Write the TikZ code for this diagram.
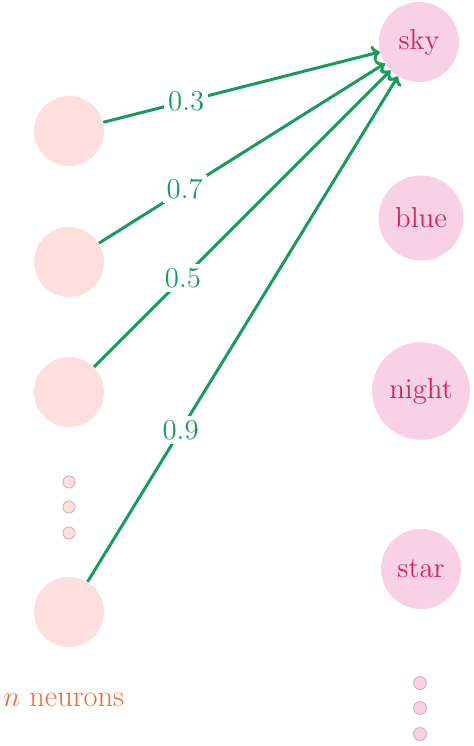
\documentclass[tikz,border=0pt]{standalone}
\usetikzlibrary{arrows.meta}
\definecolor{leftfill}{RGB}{255,222,222}
\definecolor{rightfill}{RGB}{249,209,228}
\definecolor{wordcol}{RGB}{208,36,94}
\definecolor{wgreen}{RGB}{26,155,90}
\definecolor{ncol}{RGB}{242,104,58}
\definecolor{dotborder}{RGB}{200,190,190}
\begin{document}
\begin{tikzpicture}[x=0.5pt,y=-0.5pt,
  lneuron/.style={circle,fill=leftfill,minimum size=35pt,inner sep=0pt},
  rneuron/.style={circle,fill=rightfill,minimum size=40pt,inner sep=5.5pt,text=wordcol,font=\Large},
  ldot/.style={circle,fill=leftfill,draw=dotborder,line width=0.5pt,minimum size=6pt,inner sep=0pt},
  rdot/.style={circle,fill=rightfill,draw=dotborder,line width=0.5pt,minimum size=6.5pt,inner sep=0pt},
  conn/.style={draw=wgreen,line width=1.5pt,-{To[length=4pt,width=8pt]}},
  wlabel/.style={fill=white,text=wgreen,font=\Large,inner sep=2pt}]
\useasboundingbox (0,0) rectangle (474,746);
\node[lneuron] (l1) at (69,131) {};
\node[lneuron] (l2) at (69,262) {};
\node[lneuron] (l3) at (69,392) {};
\node[lneuron] (l4) at (69,612) {};
\node[ldot] (d1) at (69,482) {};
\node[ldot] (d2) at (69,507) {};
\node[ldot] (d3) at (69,533) {};
\node[rneuron] (sky) at (419,42) {sky};
\node[rneuron] (blue) at (421,218) {blue};
\node[rneuron] (night) at (421,391) {night};
\node[rneuron] (star) at (421,569) {star};
\node[rdot] (e1) at (420,683) {};
\node[rdot] (e2) at (420,708) {};
\node[rdot] (e3) at (420,734) {};
\node[text=ncol,font=\fontsize{15.2}{18}\selectfont,inner sep=0pt,anchor=base west] (nlabel) at (3,706) {$n$ neurons};
\draw[conn] (l1) -- node[wlabel,pos=0.3]{0.3} (sky);
\draw[conn] (l2) -- node[wlabel,pos=0.3]{0.7} (sky);
\draw[conn] (l3) -- node[wlabel,pos=0.3]{0.5} (sky);
\draw[conn] (l4) -- node[wlabel,pos=0.3]{0.9} (sky);
\end{tikzpicture}
\end{document}
